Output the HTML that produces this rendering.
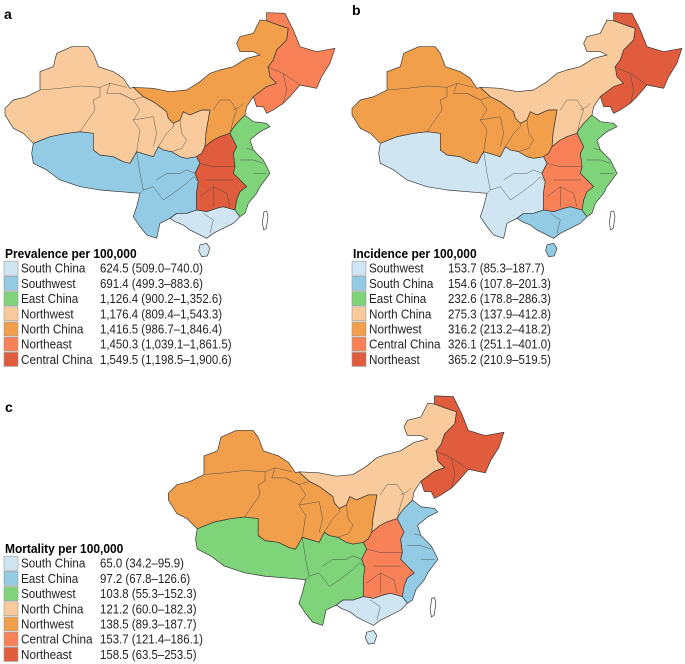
<!DOCTYPE html>
<html><head><meta charset="utf-8">
<style>
body{margin:0;background:#fff;}
svg{display:block;font-family:"Liberation Sans",sans-serif;}
.lbl{font-size:14px;font-weight:bold;}
.ttl{font-size:13px;font-weight:bold;}
.row{font-size:13px;fill:#222;}
</style></head>
<body>
<svg id="chart" width="685" height="664" viewBox="0 0 685 664">
<defs>
<g id="taiwan"><path d="M792,635 L800,633 L804,650 L799,685 L791,690 L787,668 Z" fill="#fff" stroke="#333" stroke-width="2"/></g>
</defs>
</svg>
<script>
const regions = ["NE","NC","NW","SW","SC","CC","EC"];
const shapes = {
 NE:"M800,38 L855,40 L880,90 L900,140 L950,155 L1005,145 L990,190 L965,230 L950,265 L900,255 L870,290 L850,310 L820,330 L800,340 L790,320 L770,320 L760,290 L800,260 L830,250 L810,230 L805,200 L820,180 L830,150 L860,120 L865,85 L835,75 L800,62 Z",
 NC:"M800,62 L835,75 L865,85 L860,120 L830,150 L820,180 L805,200 L810,230 L830,250 L800,260 L760,290 L740,320 L735,345 L710,370 L695,390 L690,400 L660,410 L640,420 L615,440 L618,400 L630,330 L605,330 L570,345 L550,335 L540,360 L520,370 L505,355 L500,335 L460,305 L430,290 L400,262 L460,265 L510,275 L560,270 L600,245 L630,220 L660,210 L700,200 L740,175 L780,165 L760,155 L720,155 L710,130 L720,110 L760,100 L770,80 L780,60 Z",
 NW:"M15,325 L40,300 L80,290 L120,270 L120,215 L160,200 L170,160 L215,140 L265,140 L280,160 L295,200 L340,215 L370,235 L390,265 L400,262 L430,290 L460,305 L500,335 L505,355 L520,370 L540,360 L550,335 L570,345 L605,330 L630,330 L618,400 L615,440 L605,460 L590,470 L560,475 L540,470 L515,455 L490,450 L475,440 L460,470 L410,455 L390,490 L370,485 L340,470 L300,465 L280,450 L280,400 L240,395 L200,400 L150,410 L100,430 L70,400 L40,385 L15,345 Z",
 SW:"M100,430 L150,410 L200,400 L240,395 L280,400 L280,450 L300,465 L340,470 L370,485 L390,490 L410,455 L460,470 L475,440 L490,450 L515,455 L540,470 L560,475 L590,470 L600,490 L585,520 L595,545 L590,575 L590,630 L560,640 L530,640 L510,655 L480,670 L470,715 L440,705 L420,680 L400,650 L410,620 L420,580 L360,575 L300,570 L240,560 L180,540 L140,510 L100,490 L95,460 Z",
 SC:"M530,640 L560,640 L590,630 L620,635 L650,625 L670,620 L705,630 L720,650 L700,670 L660,690 L640,700 L620,715 L600,705 L570,690 L550,675 L525,665 L510,655 Z M600,735 L620,730 L630,745 L622,768 L605,770 L596,752 Z",
 CC:"M615,440 L640,420 L660,410 L690,400 L700,420 L710,440 L700,460 L705,500 L700,520 L720,540 L740,560 L720,575 L710,600 L705,630 L670,620 L650,625 L620,635 L590,630 L590,575 L595,545 L585,520 L600,490 L590,470 L605,460 Z",
 EC:"M690,400 L695,390 L710,370 L735,345 L760,365 L800,370 L810,380 L780,395 L750,420 L760,450 L790,480 L800,500 L810,520 L780,560 L770,580 L745,610 L735,640 L720,650 L705,630 L710,600 L720,575 L740,560 L720,540 L700,520 L705,500 L700,460 L710,440 L700,420 Z"
};
// approximate internal province borders
const borders = "M120,270 L180,265 L240,258 L300,262 L330,250 L380,262 M300,262 L300,290 L280,300 L285,330 L240,395 M330,250 L320,280 L360,280 L400,300 L430,290 M360,280 L400,300 L420,330 L400,360 L420,390 L410,455 M400,360 L460,350 L470,400 L460,440 M475,440 L500,400 L520,380 L520,370 M540,360 L545,400 L560,420 L545,445 L515,455 M410,455 L420,520 L430,570 L420,580 M430,570 L460,560 L490,600 L520,580 M520,580 L560,550 L580,530 L595,545 M470,540 L500,520 L540,520 L560,510 L585,520 M600,590 L640,560 L680,580 L690,620 M640,560 L640,620 M600,490 L640,500 L690,500 L705,500 M620,540 L700,540 M690,400 L700,360 L710,330 L690,300 L660,300 L640,330 M700,330 L720,320 L730,310 M740,445 L760,450 M720,480 L760,480 L790,490 M760,520 L800,520 M610,640 L640,660 L630,700 M800,200 L850,220 L900,255 M850,220 L860,270 L850,310";
const C = {lb:"#cfe5f2",bl:"#93cbe4",gr:"#7fd47a",pe:"#f9cb9c",or:"#f29f4b",co:"#f98157",rd:"#e05c3d"};

const prevNames = ["South China","Southwest","East China","Northwest","North China","Northeast","Central China"];
const prevKeys  = ["SC","SW","EC","NW","NC","NE","CC"];
const prevVals  = ["624.5 (509.0–740.0)","691.4 (499.3–883.6)","1,126.4 (900.2–1,352.6)","1,176.4 (809.4–1,543.3)","1,416.5 (986.7–1,846.4)","1,450.3 (1,039.1–1,861.5)","1,549.5 (1,198.5–1,900.6)"];
const incNames = ["Southwest","South China","East China","North China","Northwest","Central China","Northeast"];
const incKeys  = ["SW","SC","EC","NC","NW","CC","NE"];
const incVals  = ["153.7 (85.3–187.7)","154.6 (107.8–201.3)","232.6 (178.8–286.3)","275.3 (137.9–412.8)","316.2 (213.2–418.2)","326.1 (251.1–401.0)","365.2 (210.9–519.5)"];
const morNames = ["South China","East China","Southwest","North China","Northwest","Central China","Northeast"];
const morKeys  = ["SC","EC","SW","NC","NW","CC","NE"];
const morVals  = ["65.0 (34.2–95.9)","97.2 (67.8–126.6)","103.8 (55.3–152.3)","121.2 (60.0–182.3)","138.5 (89.3–187.7)","153.7 (121.4–186.1)","158.5 (63.5–253.5)"];
const ramp = [C.lb,C.bl,C.gr,C.pe,C.or,C.co,C.rd];

const svg = document.getElementById('chart');
const NS = "http://www.w3.org/2000/svg";
function mk(tag, attrs){const e=document.createElementNS(NS,tag);for(const k in attrs)e.setAttribute(k,attrs[k]);return e;}

function panel(id, letter, lx, ly, tf, title, names, keys, vals, legX, legY, valX){
  const g = mk('g',{transform:tf});
  
  
  svg.appendChild(g);
  keys.forEach((k,i)=>{
    const p = mk('path',{d:shapes[k],fill:ramp[i],stroke:"#333","stroke-width":"2","stroke-linejoin":"round"});
    
    
    g.appendChild(p);
  });
  const b = mk('path',{d:borders,fill:"none",stroke:"#444","stroke-width":"1.3"});
  
  
  g.appendChild(b);
  const tw = mk('use',{href:"#taiwan"});
  
  
  g.appendChild(tw);
  const L = mk('text',{x:lx,y:ly,class:'lbl'}); L.textContent=letter;
  
  
  svg.appendChild(L);
  const T = mk('text',{transform:`translate(${legX},${legY+5}) scale(0.92,1)`,class:'ttl'}); T.textContent=title;
  
  
  svg.appendChild(T);
  names.forEach((n,i)=>{
    const cy = legY + 15.2*(i+1);
    const lg = mk('g',{});
    
    
    lg.appendChild(mk('rect',{x:legX-1,y:cy-7,width:14,height:14,fill:ramp[i],stroke:"#999","stroke-width":"0.6"}));
    const t1 = mk('text',{transform:`translate(${legX+16},${cy+4.5}) scale(0.9,1)`,class:'row'}); t1.textContent=n; lg.appendChild(t1);
    const t2 = mk('text',{transform:`translate(${valX},${cy+4.5}) scale(0.88,1)`,class:'row'}); t2.textContent=vals[i]; lg.appendChild(t2);
    svg.appendChild(lg);
  });
}
panel('prevalence','a',4,19,'scale(0.3333)','Prevalence per 100,000',prevNames,prevKeys,prevVals,5,253,100);
panel('incidence','b',352,15,'translate(347,0) scale(0.3333)','Incidence per 100,000',incNames,incKeys,incVals,353,253,448);
panel('mortality','c',5,412,'translate(163.3,383) scale(0.339)','Mortality per 100,000',morNames,morKeys,morVals,5,548,100);
</script>
</body></html>
